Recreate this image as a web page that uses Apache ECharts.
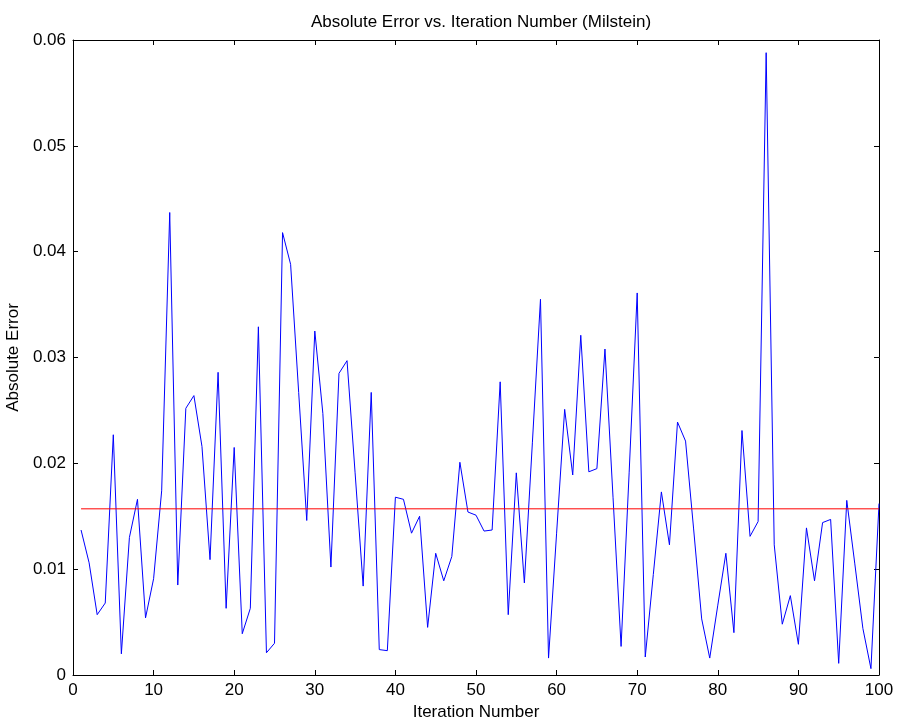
<!DOCTYPE html>
<html>
<head>
<meta charset="utf-8">
<script src="https://cdn.jsdelivr.net/npm/echarts@6/dist/echarts.min.js"></script>
<style>html,body{margin:0;padding:0;background:#fff;}#c{width:900px;height:728px;}</style>
</head>
<body>
<div id="c"></div>
<script>
const iterations = Array.from({length: 100}, (_, i) => i + 1);
const absError = [
  0.0137, 0.0106, 0.0057, 0.0068, 0.0227, 0.0020, 0.0130, 0.0166, 0.0054, 0.0091,
  0.0174, 0.0437, 0.0085, 0.0252, 0.0264, 0.0216, 0.0109, 0.0286, 0.0063, 0.0215,
  0.0039, 0.0063, 0.0329, 0.0021, 0.0030, 0.0418, 0.0388, 0.0267, 0.0146, 0.0325,
  0.0247, 0.0102, 0.0285, 0.0297, 0.0191, 0.0084, 0.0267, 0.0024, 0.0023, 0.0168,
  0.0166, 0.0134, 0.0150, 0.0045, 0.0115, 0.0089, 0.0112, 0.0201, 0.0154, 0.0151,
  0.0136, 0.0137, 0.0277, 0.0057, 0.0191, 0.0087, 0.0220, 0.0355, 0.0016, 0.0134,
  0.0251, 0.0189, 0.0321, 0.0192, 0.0195, 0.0308, 0.0168, 0.0027, 0.0191, 0.0361,
  0.0017, 0.0095, 0.0173, 0.0123, 0.0239, 0.0221, 0.0138, 0.0053, 0.0016, 0.0066,
  0.0115, 0.0040, 0.0231, 0.0131, 0.0145, 0.0588, 0.0123, 0.0048, 0.0075, 0.0029,
  0.0139, 0.0089, 0.0144, 0.0147, 0.0011, 0.0165, 0.0105, 0.0044, 0.0006, 0.0162
];
const meanError = 0.0157;
const meanX = [1, 100];
const xTicks = [0, 10, 20, 30, 40, 50, 60, 70, 80, 90, 100];
const yTicks = [0, 0.01, 0.02, 0.03, 0.04, 0.05, 0.06];

const font = 'Liberation Sans, Arial, Helvetica, sans-serif';
const chart = echarts.init(document.getElementById('c'));
const fmtY = v => String(+v.toFixed(2));
const baseAxisLine = {show: true, onZero: false, lineStyle: {color: '#000', width: 1}};
const tick = {show: true, inside: true, length: 5, lineStyle: {color: '#000', width: 1}};

chart.setOption({
  animation: false,
  backgroundColor: '#fff',
  title: {
    text: 'Absolute Error vs. Iteration Number (Milstein)',
    left: 476, top: 9, textAlign: 'center',
    textStyle: {fontFamily: font, fontSize: 17, fontWeight: 'normal', color: '#000'}
  },
  grid: {left: 73, right: 21, top: 40, bottom: 53, containLabel: false, outerBoundsMode: 'none'},
  xAxis: [{
    type: 'value', min: xTicks[0], max: xTicks[xTicks.length - 1], interval: 10,
    position: 'bottom',
    name: 'Iteration Number', nameLocation: 'middle', nameGap: 29,
    nameTextStyle: {fontFamily: font, fontSize: 17, color: '#000'},
    axisLine: baseAxisLine, axisTick: tick,
    axisLabel: {fontFamily: font, fontSize: 17, color: '#000', margin: 7},
    splitLine: {show: false}
  }, {
    type: 'value', min: 0, max: 100, interval: 10, position: 'top',
    axisLine: baseAxisLine, axisTick: tick, axisLabel: {show: false}, splitLine: {show: false}
  }],
  yAxis: [{
    type: 'value', min: yTicks[0], max: yTicks[yTicks.length - 1], interval: 0.01,
    position: 'left',
    name: 'Absolute Error', nameLocation: 'middle', nameGap: 48,
    nameTextStyle: {fontFamily: font, fontSize: 17, color: '#000'},
    axisLine: baseAxisLine, axisTick: tick,
    axisLabel: {fontFamily: font, fontSize: 17, color: '#000', margin: 7, formatter: fmtY},
    splitLine: {show: false}
  }, {
    type: 'value', min: 0, max: 0.06, interval: 0.01, position: 'right',
    axisLine: baseAxisLine, axisTick: tick, axisLabel: {show: false}, splitLine: {show: false}
  }],
  series: [{
    type: 'line',
    data: iterations.map((x, i) => [x, absError[i]]),
    showSymbol: false, symbol: 'none',
    lineStyle: {color: '#0000ff', width: 1},
    z: 3
  }, {
    type: 'line',
    data: meanX.map(x => [x, meanError]),
    showSymbol: false, symbol: 'none',
    lineStyle: {color: '#ff0000', width: 1},
    z: 4
  }]
});
</script>
</body>
</html>
